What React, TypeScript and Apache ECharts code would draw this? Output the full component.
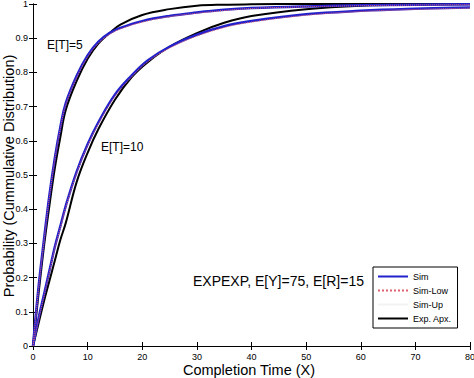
import React, { useEffect, useRef } from "react";
import * as echarts from "echarts";

const X5 = [0, 1, 2, 3, 4, 5, 6, 8, 10, 12, 14, 16, 20, 25, 30, 35, 40, 50, 60, 70, 80];
const SIM5 = [0, 0.17, 0.31, 0.44, 0.55, 0.64, 0.71, 0.79, 0.85, 0.89, 0.915, 0.93, 0.95, 0.965, 0.975, 0.983, 0.988, 0.993, 0.996, 0.998, 0.999];
const SIMLOW5 = [0, 0.165, 0.305, 0.435, 0.545, 0.635, 0.705, 0.785, 0.845, 0.886, 0.911, 0.927, 0.947, 0.963, 0.973, 0.981, 0.987, 0.992, 0.995, 0.997, 0.998];
const SIMUP5 = [0, 0.175, 0.315, 0.445, 0.555, 0.645, 0.715, 0.795, 0.855, 0.894, 0.919, 0.933, 0.953, 0.967, 0.977, 0.985, 0.989, 0.994, 0.997, 0.999, 1];
const EXP5 = [0, 0.15, 0.29, 0.41, 0.52, 0.61, 0.69, 0.775, 0.84, 0.885, 0.915, 0.94, 0.968, 0.985, 0.995, 0.998, 0.999, 1, 1, 1, 1];

const X10 = [0, 1, 2, 3, 4, 5, 6, 8, 10, 12, 15, 18, 21, 25, 30, 35, 40, 50, 60, 70, 80];
const SIM10 = [0, 0.08, 0.15, 0.22, 0.29, 0.35, 0.41, 0.51, 0.59, 0.655, 0.735, 0.79, 0.835, 0.875, 0.91, 0.935, 0.95, 0.97, 0.98, 0.986, 0.99];
const SIMLOW10 = [0, 0.075, 0.145, 0.215, 0.285, 0.345, 0.405, 0.505, 0.585, 0.65, 0.73, 0.786, 0.831, 0.871, 0.906, 0.931, 0.947, 0.967, 0.978, 0.984, 0.988];
const SIMUP10 = [0, 0.085, 0.155, 0.225, 0.295, 0.355, 0.415, 0.515, 0.595, 0.66, 0.74, 0.794, 0.839, 0.879, 0.914, 0.939, 0.953, 0.973, 0.982, 0.988, 0.992];
const EXP10 = [0, 0.065, 0.13, 0.19, 0.25, 0.31, 0.36, 0.48, 0.565, 0.635, 0.72, 0.785, 0.83, 0.875, 0.915, 0.945, 0.965, 0.985, 0.995, 0.998, 0.999];

const LEGEND = ["Sim", "Sim-Low", "Sim-Up", "Exp. Apx."];
const X_TITLE = "Completion Time (X)";
const Y_TITLE = "Probability (Cummulative Distribution)";

const pairs = (xs: number[], ys: number[]) => xs.map((x, i) => [x, ys[i]]);

export default function App() {
  const ref = useRef<HTMLDivElement>(null);
  useEffect(() => {
    if (!ref.current) return;
    const chart = echarts.init(ref.current, undefined, { renderer: "svg" });
    const font = "Arial, 'Liberation Sans', sans-serif";
    const line = (name: string, xs: number[], ys: number[], color: string, width: number, type: any = "solid", z = 2) => ({
      name,
      type: "line",
      data: pairs(xs, ys),
      symbol: "none",
      smooth: 0.4,
      z,
      lineStyle: { color, width, type },
      itemStyle: { color },
    });
    chart.setOption({
      animation: false,
      backgroundColor: "#fff",
      grid: { left: 33, top: 4, right: 4, bottom: 32, containLabel: false, outerBoundsMode: "none" },
      legend: {
        data: LEGEND,
        orient: "vertical",
        left: 373,
        top: 267,
        padding: [5, 6, 5, 4],
        itemGap: 5,
        itemWidth: 30,
        itemHeight: 9,
        borderColor: "#000",
        borderWidth: 1,
        borderRadius: 0,
        backgroundColor: "#fff",
        itemStyle: { opacity: 0 },
        textStyle: { fontSize: 9, fontFamily: font, color: "#000" },
      },
      xAxis: [
        {
          type: "value",
          min: 0,
          max: 80,
          interval: 10,
          axisLine: { lineStyle: { color: "#000", width: 1 } },
          axisTick: { inside: true, length: 4, lineStyle: { color: "#000" } },
          axisLabel: { fontSize: 9, fontFamily: font, color: "#000", margin: 6 },
          splitLine: { show: false },
        },
        {
          type: "value",
          position: "top",
          min: 0,
          max: 80,
          interval: 10,
          axisLine: { lineStyle: { color: "#000", width: 1 } },
          axisTick: { inside: true, length: 4, lineStyle: { color: "#000" } },
          axisLabel: { show: false },
          splitLine: { show: false },
        },
      ],
      yAxis: [
        {
          type: "value",
          min: 0,
          max: 1,
          interval: 0.1,
          axisLine: { show: true, lineStyle: { color: "#000", width: 1 } },
          axisTick: { show: true, inside: true, length: 4, lineStyle: { color: "#000" } },
          axisLabel: { fontSize: 9, fontFamily: font, color: "#000", margin: 5 },
          splitLine: { show: false },
        },
        {
          type: "value",
          position: "right",
          min: 0,
          max: 1,
          interval: 0.1,
          axisLine: { show: true, lineStyle: { color: "#000", width: 1 } },
          axisTick: { show: true, inside: true, length: 4, lineStyle: { color: "#000" } },
          axisLabel: { show: false },
          splitLine: { show: false },
        },
      ],
      series: [
        line("Sim-Up", X5, SIMUP5, "#f2f2f2", 1),
        line("Sim-Up", X10, SIMUP10, "#f2f2f2", 1),
        line("Exp. Apx.", X5, EXP5, "#000000", 2, "solid", 3),
        line("Exp. Apx.", X10, EXP10, "#000000", 2, "solid", 3),
        line("Sim", X5, SIM5, "#2020cc", 2.5, "solid", 4),
        line("Sim", X10, SIM10, "#2020cc", 2.5, "solid", 4),
        line("Sim-Low", X5, SIMLOW5, "#e06070", 1, "dotted", 5),
        line("Sim-Low", X10, SIMLOW10, "#e06070", 1, "dotted", 5),
      ],
      graphic: [
        { type: "text", left: 47, top: 39, style: { text: "E[T]=5", font: `12px ${font}`, fill: "#000" } },
        { type: "text", left: 101, top: 141, style: { text: "E[T]=10", font: `12px ${font}`, fill: "#000" } },
        { type: "text", left: 193, top: 274, style: { text: "EXPEXP, E[Y]=75, E[R]=15", font: `14px ${font}`, fill: "#000" } },
        {
          type: "text",
          x: 249,
          y: 370,
          style: { text: X_TITLE, font: `14.5px ${font}`, fill: "#000", align: "center", verticalAlign: "middle" },
        },
        {
          type: "text",
          x: 9,
          y: 176,
          rotation: Math.PI / 2,
          style: { text: Y_TITLE, font: `14.5px ${font}`, fill: "#000", align: "center", verticalAlign: "middle" },
        },
      ],
    });
    return () => chart.dispose();
  }, []);
  return <div ref={ref} style={{ position: "fixed", left: 0, top: 0, width: 474, height: 378 }} />;
}
